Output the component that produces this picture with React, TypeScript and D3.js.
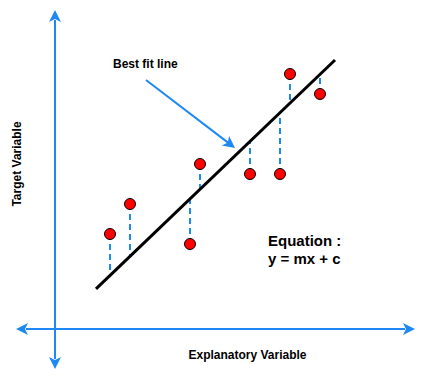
import React from "react";
import * as d3 from "d3";

// Data (chart units)
const pointX = [6, 8, 14, 15, 20, 23, 24, 27];
const pointY = [9, 12, 8, 16, 15, 15, 25, 23];
const fitSlope = 0.958;
const fitIntercept = -0.9;
const fitRange = [4.6, 28.5];
const xLabel = "Explanatory Variable";
const yLabel = "Target Variable";
const fitLabel = "Best fit line";
const equationLines = ["Equation :", "y = mx + c"];

const W = 426;
const H = 379;
const BLUE = "#1e88f5";
const FONT = "'Liberation Sans', Arial, Helvetica, sans-serif";

function arrowHead(tipX: number, tipY: number, angle: number, len = 12, half = 6, notch = 3) {
  // angle: direction the arrow points (radians)
  const ux = Math.cos(angle), uy = Math.sin(angle);
  const px = -uy, py = ux;
  const bx = tipX - ux * len, by = tipY - uy * len;
  const nx = tipX - ux * (len - notch), ny = tipY - uy * (len - notch);
  return `M${tipX},${tipY} L${bx + px * half},${by + py * half} L${nx},${ny} L${bx - px * half},${by - py * half} Z`;
}

export default function App() {
  const x = d3.scaleLinear().domain([0, 36]).range([50, 410]);
  const y = d3.scaleLinear().domain([0, 30]).range([324, 24]);
  const axisX = x(0.5);
  const axisY = y(-0.5);
  const fit = (v: number) => fitSlope * v + fitIntercept;
  const line = d3.line<number>().x((d) => x(d)).y((d) => y(fit(d)));

  const ptr = { x1: 146, y1: 80, x2: 235, y2: 148 };
  const ptrAngle = Math.atan2(ptr.y2 - ptr.y1, ptr.x2 - ptr.x1);

  return (
    <svg width={W} height={H} style={{ position: "absolute", left: 0, top: 0, background: "#fff" }}>
      {/* axes */}
      <line x1={axisX} y1={20} x2={axisX} y2={359} stroke={BLUE} strokeWidth={2} />
      <path d={arrowHead(axisX, 10, -Math.PI / 2)} fill={BLUE} />
      <path d={arrowHead(axisX, 369, Math.PI / 2)} fill={BLUE} />
      <line x1={26} y1={axisY} x2={405} y2={axisY} stroke={BLUE} strokeWidth={2} />
      <path d={arrowHead(16, axisY, Math.PI)} fill={BLUE} />
      <path d={arrowHead(415, axisY, 0)} fill={BLUE} />

      {/* residuals */}
      {pointX.map((px, i) => (
        <line
          key={"r" + i}
          x1={x(px)}
          y1={y(pointY[i])}
          x2={x(px)}
          y2={y(fit(px))}
          stroke={BLUE}
          strokeWidth={2}
          strokeDasharray="6,4"
        />
      ))}

      {/* fit line */}
      <path d={line(fitRange) || ""} stroke="#000" strokeWidth={3} fill="none" />

      {/* points */}
      {pointX.map((px, i) => (
        <circle key={"p" + i} cx={x(px)} cy={y(pointY[i])} r={5.5} fill="#ff0000" stroke="#000" strokeWidth={1} />
      ))}

      {/* pointer arrow */}
      <line
        x1={ptr.x1}
        y1={ptr.y1}
        x2={ptr.x2 - Math.cos(ptrAngle) * 8}
        y2={ptr.y2 - Math.sin(ptrAngle) * 8}
        stroke={BLUE}
        strokeWidth={2}
      />
      <path d={arrowHead(ptr.x2, ptr.y2, ptrAngle)} fill={BLUE} />

      {/* text */}
      <g fontFamily={FONT} fontWeight="bold" fill="#000">
        <text x={113} y={68} fontSize={12}>{fitLabel}</text>
        <text x={247.5} y={359} fontSize={12} textAnchor="middle">{xLabel}</text>
        <text transform="translate(21,164) rotate(-90)" fontSize={12} textAnchor="middle">{yLabel}</text>
        <text x={268} y={246} fontSize={15}>{equationLines[0]}</text>
        <text x={268} y={264} fontSize={15}>{equationLines[1]}</text>
      </g>
    </svg>
  );
}
